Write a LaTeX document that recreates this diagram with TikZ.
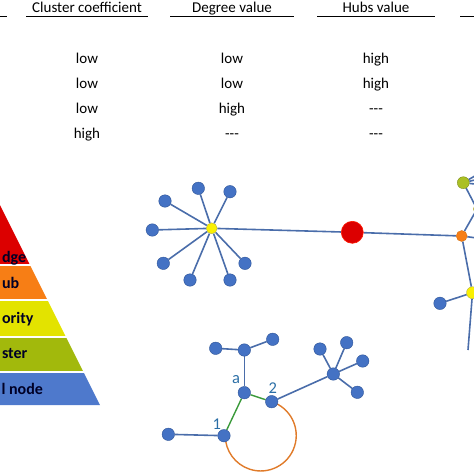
\documentclass[tikz,border=0pt]{standalone}
\usepackage{fontspec}
\setmainfont{Carlito}
\usetikzlibrary{backgrounds}
\definecolor{edgeblue}{HTML}{4A6DAA}
\definecolor{nodeblue}{HTML}{4472C4}
\definecolor{nodeblueD}{HTML}{2F5597}
\definecolor{pred}{HTML}{DC0000}
\definecolor{porange}{HTML}{F77E15}
\definecolor{pyellow}{HTML}{E3E300}
\definecolor{pgreen}{HTML}{A2B90C}
\definecolor{pblue}{HTML}{4E79CC}
\definecolor{labblue}{HTML}{2A6EA6}
\definecolor{ringorange}{HTML}{E07B2A}
\definecolor{ringgreen}{HTML}{3A9A3A}
\newcommand{\tdash}{-{}-{}-}
\tikzset{
  every node/.style={font=\fontsize{15}{17}\selectfont},
  bnode/.style={circle,fill=nodeblue,draw=nodeblueD,line width=0.4pt,inner sep=0pt,minimum size=12.5pt},
  hubnode/.style={circle,inner sep=0pt,minimum size=#1},
  edge/.style={draw=edgeblue,line width=1.6pt},
  hdr/.style={anchor=base},
  cell/.style={anchor=base},
  plab/.style={anchor=base west,font=\fontsize{16}{18}\selectfont\bfseries,text=black!85!blue},
  numlab/.style={text=labblue,font=\fontsize{16.5}{18}\selectfont}
}
\begin{document}
\begin{tikzpicture}[x=1pt,y=1pt]
\useasboundingbox (0,0) rectangle (474,-474);
% ---------- table header ----------
\node[hdr] (h1) at (87,-12) {Cluster coefficient};
\node[hdr] (h2) at (232,-12) {Degree value};
\node[hdr] (h3) at (376,-12) {Hubs value};
\draw[line width=0.8pt] (-5,-16) -- (7,-16);
\draw[line width=0.8pt] (26,-16) -- (148,-16);
\draw[line width=0.8pt] (170,-16) -- (294,-16);
\draw[line width=0.8pt] (317,-16) -- (435,-16);
\draw[line width=0.8pt] (460,-16) -- (480,-16);
% ---------- table rows ----------
\node[cell] (r1a) at (87,-63) {low};
\node[cell] (r1b) at (232,-63) {low};
\node[cell] (r1c) at (376,-63) {high};
\node[cell] (r2a) at (87,-88) {low};
\node[cell] (r2b) at (232,-88) {low};
\node[cell] (r2c) at (376,-88) {high};
\node[cell] (r3a) at (87,-113) {low};
\node[cell] (r3b) at (232,-113) {high};
\node[cell] (r3c) at (376,-113) {\tdash};
\node[cell] (r4a) at (87,-138) {high};
\node[cell] (r4b) at (232,-138) {\tdash};
\node[cell] (r4c) at (376,-138) {\tdash};
% ---------- pyramid ----------
\fill[pred]    (-60,-205) -- (0,-205) -- (30,-265) -- (-90,-265) -- cycle;
\fill[porange] (-90,-265) -- (30,-265) -- (47.5,-300) -- (-110,-300) -- cycle;
\fill[pyellow] (-110,-300) -- (47.5,-300) -- (66,-337) -- (-130,-337) -- cycle;
\fill[pgreen]  (-130,-337) -- (66,-337) -- (83.5,-372) -- (-150,-372) -- cycle;
\fill[pblue]   (-150,-372) -- (83.5,-372) -- (100,-405) -- (-170,-405) -- cycle;
\foreach \yy/\xx in {265/30,300/47.5,337/66,372/83.5}{
  \draw[white,line width=1.6pt] (-200,-\yy) -- (\xx+3,-\yy);
}
\node[plab] (pl1) at (-1.5,-262) {dge};
\node[plab] (pl2) at (-1.5,-288) {ub};
\node[plab] (pl3) at (-1.5,-323) {ority};
\node[plab] (pl4) at (-1.5,-358) {ster};
\node[plab] (pl5) at (-2,-394) {l node};
% ---------- upper network ----------
\node[hubnode=11pt,fill=yellow!90!lime,draw=yellow!60!black,line width=0.3pt] (hy) at (211.7,-228.3) {};
\node[bnode] (l1) at (198.3,-188.3) {};
\node[bnode] (l2) at (230,-191.7) {};
\node[bnode] (l3) at (165,-201) {};
\node[bnode] (l4) at (152.3,-230) {};
\node[bnode] (l5) at (163.3,-263.3) {};
\node[bnode] (l6) at (190,-280) {};
\node[bnode] (l7) at (230,-280) {};
\node[bnode] (l8) at (245,-263.3) {};
\node[hubnode=22pt,fill=pred,draw=red!80!orange,line width=0.6pt] (red) at (352.3,-232.3) {};
\node[hubnode=11pt,fill=porange,draw=orange!80!black,line width=0.3pt] (or) at (461.7,-236) {};
\node[hubnode=12pt,fill=pgreen!90!white,draw=pgreen!70!black,line width=0.3pt] (gr) at (463.3,-182.7) {};
\node[hubnode=8pt,fill=olive!60!white] (sq) at (477,-209) {};
\node[hubnode=12pt,fill=yellow!90!lime,draw=yellow!60!black,line width=0.3pt] (yr) at (472.5,-292.7) {};
\node[bnode] (br) at (440,-303.3) {};
\coordinate (g1) at (492,-166);
\coordinate (g2) at (492,-176);
\coordinate (g3) at (492,-186);
\coordinate (oe) at (492,-240);
\coordinate (yd) at (468,-350);
\begin{scope}[on background layer]
\foreach \n in {l1,l2,l3,l4,l5,l6,l7,l8}{ \draw[edge] (hy) -- (\n); }
\draw[edge] (hy) -- (red);
\draw[edge] (red) -- (or);
\draw[edge] (gr) -- (g1);
\draw[edge] (gr) -- (g2);
\draw[edge] (gr) -- (g3);
\draw[edge] (gr) -- (sq);
\draw[edge] (or) -- (sq);
\draw[edge] (or) -- (oe);
\draw[edge] (or) -- (yr);
\draw[edge] (yr) -- (br);
\draw[edge] (yr) -- (yd);
\end{scope}
% ---------- lower network ----------
\node[bnode] (na) at (244.3,-392.7) {};
\node[bnode] (n2) at (271.7,-401.7) {};
\node[bnode] (n1) at (224,-435.7) {};
\node[bnode] (nl) at (168.3,-434.3) {};
\node[bnode] (nt) at (244.3,-350) {};
\node[bnode] (nt1) at (215.7,-348.3) {};
\node[bnode] (nt2) at (272.7,-339.3) {};
\node[bnode] (rh) at (333.3,-374) {};
\node[bnode] (rh1) at (320,-349) {};
\node[bnode] (rh2) at (346.7,-342.7) {};
\node[bnode] (rh3) at (362.7,-361) {};
\node[bnode] (rh4) at (357.3,-392.3) {};
\node[numlab] (la) at (236,-380) {a};
\node[numlab] (l2lab) at (272.7,-388) {2};
\node[numlab] (l1lab) at (216.7,-424) {1};
\begin{scope}[on background layer]
\draw[edge] (na) -- (nt);
\draw[edge] (nt) -- (nt1);
\draw[edge] (nt) -- (nt2);
\draw[edge] (n1) -- (nl);
\draw[edge] (n2) -- (rh);
\foreach \n in {rh1,rh2,rh3,rh4}{ \draw[edge] (rh) -- (\n); }
\draw[draw=ringgreen,line width=1.4pt] (na) -- (n1);
\draw[draw=ringgreen,line width=1.4pt] (na) -- (n2);
\draw[draw=ringorange,line width=1.4pt] (n2.center) arc[start angle=72,end angle=-180,radius=35.5];
\end{scope}
\end{tikzpicture}
\end{document}
